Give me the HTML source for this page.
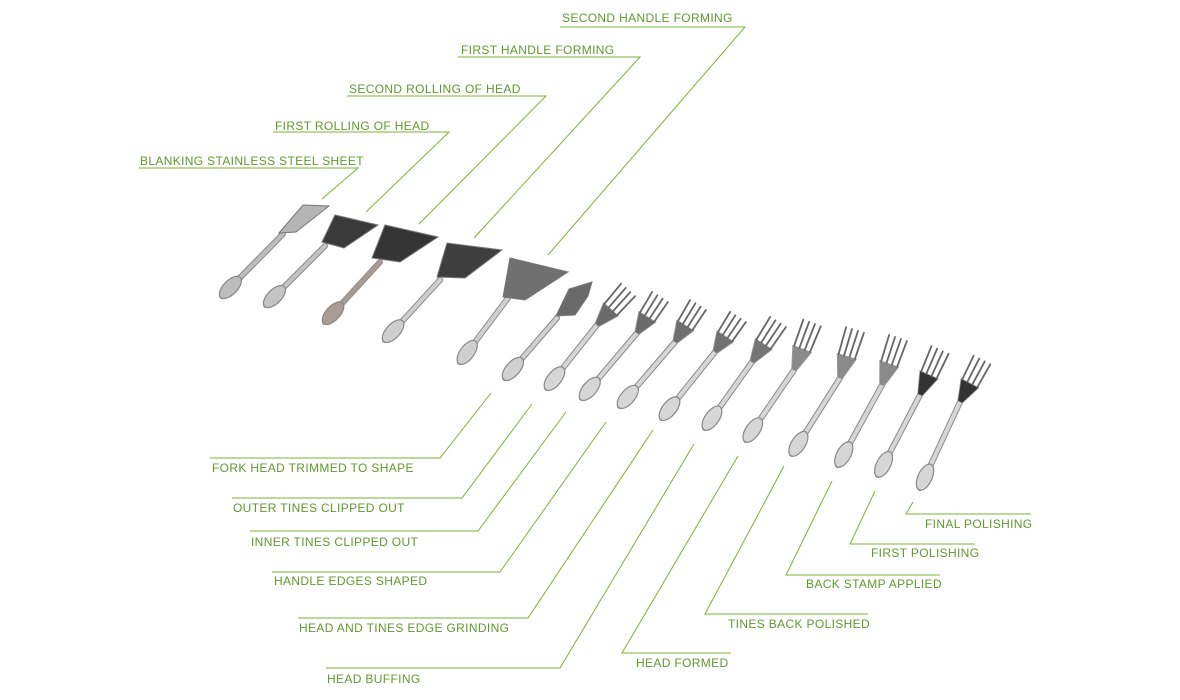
<!DOCTYPE html>
<html><head><meta charset="utf-8"><style>
html,body{margin:0;padding:0;background:#fff;}
svg{display:block;}
text{font-family:"Liberation Sans",sans-serif;font-size:12px;fill:#5e9a2c;letter-spacing:0.35px;}
</style></head><body>
<svg id="s" width="1180" height="700" viewBox="0 0 1180 700" xmlns="http://www.w3.org/2000/svg">
<g stroke="#7ab334" stroke-width="1" fill="none">
<polyline points="560,27 745,27 548,255"/>
<polyline points="458,57 640,57 474,238"/>
<polyline points="347,96 546,96 419,224"/>
<polyline points="273,132 449,132 366,212"/>
<polyline points="139,168 358,168 322,199"/>
<polyline points="210,458 440,458 491,393"/>
<polyline points="232,498 462,498 532,404"/>
<polyline points="250,531 478,531 566,412"/>
<polyline points="272,572 500,572 606,422"/>
<polyline points="298,618 528,618 653,430"/>
<polyline points="326,668 560,668 694,444"/>
<polyline points="731,653 622,653 738,456"/>
<polyline points="868,614 705,614 784,466"/>
<polyline points="940,575 786,575 832,481"/>
<polyline points="975,544 850,544 875,491"/>
<polyline points="1031,514 906,514 913,502"/>
</g>
<g>
<text x="562" y="22">SECOND HANDLE FORMING</text>
<text x="461" y="54">FIRST HANDLE FORMING</text>
<text x="349" y="93">SECOND ROLLING OF HEAD</text>
<text x="275" y="130">FIRST ROLLING OF HEAD</text>
<text x="140" y="165">BLANKING STAINLESS STEEL SHEET</text>
<text x="212" y="472">FORK HEAD TRIMMED TO SHAPE</text>
<text x="233" y="512">OUTER TINES CLIPPED OUT</text>
<text x="251" y="546">INNER TINES CLIPPED OUT</text>
<text x="274" y="585">HANDLE EDGES SHAPED</text>
<text x="299" y="632">HEAD AND TINES EDGE GRINDING</text>
<text x="327" y="683">HEAD BUFFING</text>
<text x="636" y="667">HEAD FORMED</text>
<text x="728" y="628">TINES BACK POLISHED</text>
<text x="806" y="588">BACK STAMP APPLIED</text>
<text x="871" y="557">FIRST POLISHING</text>
<text x="925" y="528">FINAL POLISHING</text>
</g>
<g id="f"></g>
</svg>
<script>
var g=document.getElementById('f'),NS='http://www.w3.org/2000/svg';
function el(t,a){var e=document.createElementNS(NS,t);for(var k in a)e.setAttribute(k,a[k]);g.appendChild(e);return e;}
function handle(B,N,c){
 el('line',{x1:B[0],y1:B[1],x2:N[0],y2:N[1],stroke:'#8a8a8a','stroke-width':6,'stroke-linecap':'round'});
 el('line',{x1:B[0],y1:B[1],x2:N[0],y2:N[1],stroke:c,'stroke-width':4,'stroke-linecap':'round'});
 var dx=N[0]-B[0],dy=N[1]-B[1],L=Math.hypot(dx,dy),ang=Math.atan2(dy,dx)*180/Math.PI;
 var cx=B[0]+dx*12/L,cy=B[1]+dy*12/L;
 el('ellipse',{cx:cx,cy:cy,rx:14,ry:7,fill:c,stroke:'#888','stroke-width':1.2,transform:'rotate('+ang+' '+cx+' '+cy+')'});
}
var blanks=[
 [[222,296],[283,234],'#bdbdbd','279,233 303,205 329,206 296,232'],
 [[266,305],[325,246],'#c4c4c4','322,242 335,215 378,225 344,248','#3a3a3a'],
 [[325,322],[380,262],'#a89c94','372,258 385,225 438,237 400,262','#353535'],
 [[385,340],[440,280],'#cfcfcf','437,277 447,243 502,250 465,278','#3e3e3e'],
 [[460,362],[508,298],'#cfcfcf','503,297 510,258 568,272 525,300','#707070'],
 [[505,378],[557,318],'#d0d0d0','556,316 569,289 592,282 588,296 575,315','#6a6a6a']
];
blanks.forEach(function(b){handle(b[0],b[1],b[2]);el('polygon',{points:b[3],fill:b[4]||'#b5b5b5',stroke:'#777','stroke-width':1});});
var forks=[
 [[547,388],[597,325],[628,290],'#6a6a6a'],
 [[582,398],[637,333],[660,297],'#6a6a6a'],
 [[620,406],[675,342],[698,305],'#707070'],
 [[662,418],[715,352],[738,317],'#707070'],
 [[705,428],[752,362],[778,322],'#757575'],
 [[746,440],[794,370],[812,323],'#8a8a8a'],
 [[792,454],[840,378],[855,330],'#8a8a8a'],
 [[838,465],[882,385],[898,338],'#8a8a8a'],
 [[878,475],[920,395],[940,350],'#333'],
 [[920,488],[960,402],[982,360],'#333']
];
forks.forEach(function(f){
 var B=f[0],N=f[1],T=f[2];handle(B,N,'#d6d6d6');
 var dx=T[0]-N[0],dy=T[1]-N[1],L=Math.hypot(dx,dy),ux=dx/L,uy=dy/L,px=-uy,py=ux;
 var M=[N[0]+dx*0.45,N[1]+dy*0.45],w=10;
 el('polygon',{points:[N[0]+px*2.5,N[1]+py*2.5,M[0]+px*w,M[1]+py*w,M[0]-px*w,M[1]-py*w,N[0]-px*2.5,N[1]-py*2.5].join(' '),fill:f[3],stroke:'#999','stroke-width':0.8});
 for(var i=0;i<4;i++){var o=-w+1.5+i*(2*w-3)/3;
  el('line',{x1:M[0]+px*o,y1:M[1]+py*o,x2:T[0]+px*o*1.1,y2:T[1]+py*o*1.1,stroke:'#666','stroke-width':1.8,'stroke-linecap':'round'});}
});
</script>
</body></html>
